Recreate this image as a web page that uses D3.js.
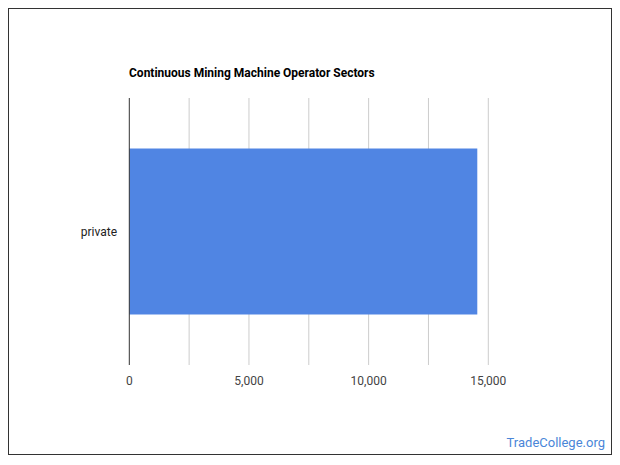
<!DOCTYPE html>
<html><head><meta charset="utf-8">
<script src="https://cdn.jsdelivr.net/npm/d3@7"></script>
<style>body{margin:0;background:#fff}</style></head>
<body><svg id="c" width="620" height="465"></svg>
<script>
const categories = ["private"];
const values = [14540];
const ticks = [0, 2500, 5000, 7500, 10000, 12500, 15000];
const labeledTicks = [0, 5000, 10000, 15000];

const svg = d3.select("#c");
svg.append("rect").attr("x",8.5).attr("y",8.5).attr("width",603).attr("height",446)
  .attr("fill","#fff").attr("stroke","#333").attr("stroke-width",1);
svg.append("text").attr("x",129).attr("y",77).text("Continuous Mining Machine Operator Sectors")
  .attr("font-family","Roboto").attr("font-weight","bold").attr("font-size",12).attr("fill","#000");

const x = d3.scaleLinear().domain([0,15000]).range([129.3,488.3]);
const y = d3.scaleBand().domain(categories).range([98,365]).paddingInner(0.3).paddingOuter(0.213);

svg.append("g").selectAll("line").data(ticks.slice(1)).join("line")
  .attr("x1",d=>x(d)).attr("x2",d=>x(d)).attr("y1",98).attr("y2",365)
  .attr("stroke","#ccc").attr("stroke-width",1);

svg.append("g").selectAll("rect").data(values).join("rect")
  .attr("x",x(0)).attr("y",(d,i)=>y(categories[i]))
  .attr("width",d=>x(d)-x(0)).attr("height",y.bandwidth()).attr("fill","#5085e3");

svg.append("line").attr("x1",x(0)).attr("x2",x(0)).attr("y1",98).attr("y2",365)
  .attr("stroke","#333").attr("stroke-width",1);

svg.append("g").selectAll("text").data(labeledTicks).join("text")
  .attr("x",d=>x(d)).attr("y",385).attr("text-anchor","middle")
  .attr("font-family","Roboto").attr("font-size",12).attr("fill","#444")
  .text(d=>d3.format(",")(d));

svg.append("g").selectAll("text").data(categories).join("text")
  .attr("x",117).attr("y",d=>y(d)+y.bandwidth()/2+4).attr("text-anchor","end")
  .attr("font-family","Roboto").attr("font-size",12).attr("fill","#222").text(d=>d);

svg.append("text").attr("x",605).attr("y",447).attr("text-anchor","end")
  .attr("font-family","Roboto").attr("font-size",13).attr("fill","#4a86d8").text("TradeCollege.org");
</script></body></html>
